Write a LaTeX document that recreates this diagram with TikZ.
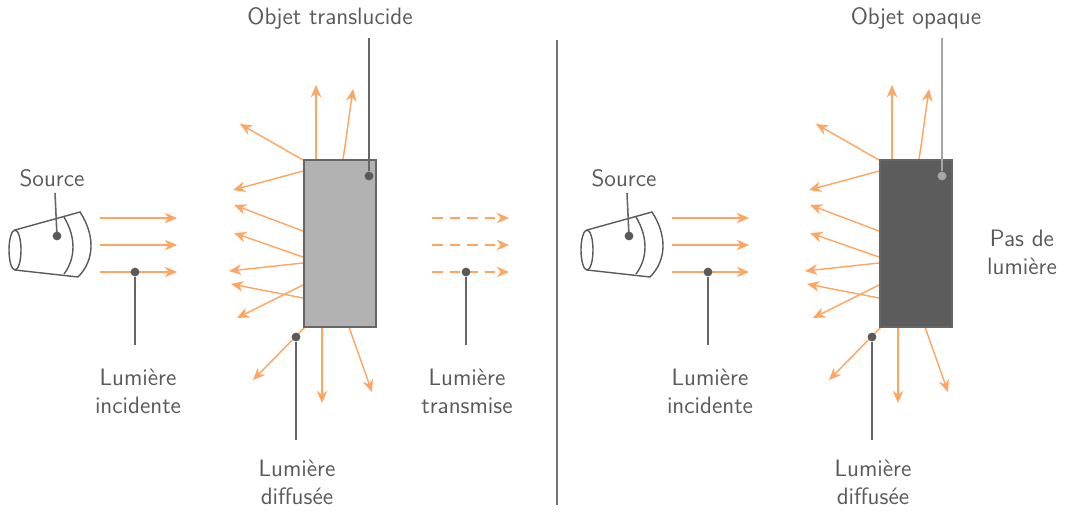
\documentclass[tikz,border=0pt]{standalone}
\usetikzlibrary{arrows.meta,positioning}
\definecolor{rayc}{HTML}{FFA560}
\definecolor{ink}{HTML}{5A5A5A}
\definecolor{lead}{HTML}{666666}
\begin{document}
\begin{tikzpicture}[x=0.02cm, y=-0.02cm, >={Stealth[length=7pt,width=6pt]},
  every node/.style={font=\sffamily\fontsize{13.5}{16}\selectfont, text=ink, align=center},
  ray/.style={->, rayc, line width=0.8pt},
  leader/.style={lead, line width=0.9pt},
  dot/.style={circle, fill=ink, inner sep=0pt, minimum size=5pt}]
  \useasboundingbox (0,0) rectangle (1076,521);

  % source lamp
  \newcommand\drawlamp[1]{%
    \begin{scope}[shift={(#1,0)}, ink, line width=0.8pt]
      \draw (15,250) ellipse [x radius=6, y radius=20];
      \draw (15,230) -- (80,212) .. controls (95,235) and (95,260) .. (78,277) -- (15,270);
      \draw (64,217) .. controls (76,237) and (76,258) .. (64,274);
    \end{scope}}

  % scattered rays around a box
  \newcommand\drawscatter[1]{%
    \begin{scope}[shift={(#1,0)}]
      \foreach \ya/\xb/\yb in {160/240/124, 171/233/190, 231/234/205, 257/234/233,
                                 263/229/271, 298/231/284, 285/237/318}
        \draw[ray] (303,\ya) -- (\xb,\yb);
      \draw[ray] (316,160) -- (316,85);
      \draw[ray] (343,160) -- (353,89);
      \draw[ray] (305,327) -- (253,380);
      \draw[ray] (322,327) -- (322,403);
      \draw[ray] (349,327) -- (372,392);
    \end{scope}}

  % left half
  \drawscatter{0}
  \node[draw=lead, fill=black!30, line width=0.9pt, minimum width=72*0.02cm, minimum height=167*0.02cm, inner sep=0pt] (box1) at (340,243.5) {};
  \drawlamp{0}
  \foreach \y in {218,245,272} \draw[ray] (100,\y) -- (177,\y);
  \foreach \y in {218,245,272} \draw[ray, dash pattern=on 6pt off 4pt] (432,\y) -- (509,\y);

  \node (src1) at (52,178) {Source};
  \coordinate (src1d) at (57,236);
  \draw[leader] (55,193) -- (src1d);
  \node[dot] at (src1d) {};

  \node (inc1) at (138,391) {Lumière\\incidente};
  \node[dot] (inc1d) at (135,272) {};
  \draw[leader] (inc1d) -- (135,345);

  \node (tra1) at (467,391) {Lumière\\transmise};
  \node[dot] (tra1d) at (466,272) {};
  \draw[leader] (tra1d) -- (466,345);

  \node (obj1) at (330,18) {Objet translucide};
  \node[dot] (obj1d) at (369,176) {};
  \draw[leader] (369,38) -- (obj1d);

  \node (dif1) at (297,482) {Lumière\\diffusée};
  \node[dot] (dif1d) at (296,337) {};
  \draw[leader] (dif1d) -- (296,440);

  % divider
  \draw[black!55, line width=0.8pt] (557,40) -- (557,505);

  % right half
  \drawscatter{576}
  \node[draw=lead, fill=black!64, line width=0.9pt, minimum width=72*0.02cm, minimum height=167*0.02cm, inner sep=0pt] (box2) at (916,243.5) {};
  \drawlamp{572}
  \foreach \y in {218,245,272} \draw[ray] (672,\y) -- (749,\y);

  \node (src2) at (624,178) {Source};
  \coordinate (src2d) at (629,236);
  \draw[leader] (627,193) -- (src2d);
  \node[dot] at (src2d) {};

  \node (inc2) at (710,391) {Lumière\\incidente};
  \node[dot] (inc2d) at (708,272) {};
  \draw[leader] (inc2d) -- (708,345);

  \node (obj2) at (916,18) {Objet opaque};
  \node[dot, fill=black!35] (obj2d) at (942,176) {};
  \draw[leader, black!35] (942,38) -- (obj2d);

  \node (dif2) at (873,482) {Lumière\\diffusée};
  \node[dot] (dif2d) at (872,337) {};
  \draw[leader] (dif2d) -- (872,440);

  \node (none) at (1022,252) {Pas de\\lumière};
\end{tikzpicture}
\end{document}
